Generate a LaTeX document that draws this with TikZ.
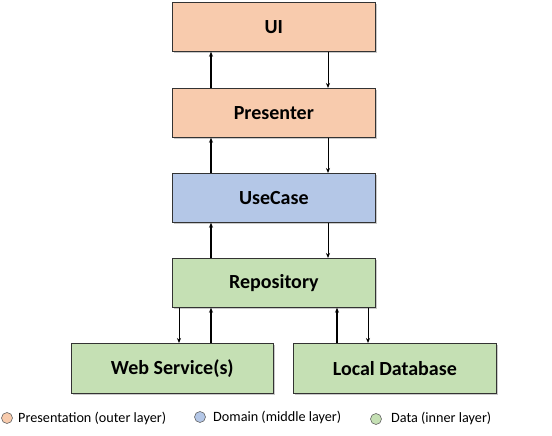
\documentclass[tikz,border=0pt]{standalone}
\usepackage{fontspec}
\setmainfont{Carlito}
\usetikzlibrary{arrows.meta,shadows}
\definecolor{pres}{HTML}{F8CBAD}
\definecolor{dom}{HTML}{B4C7E7}
\definecolor{dat}{HTML}{C5E0B4}
\begin{document}
\begin{tikzpicture}[x=1pt,y=-1pt,
  layerbox/.style={draw=black!80, line width=0.7pt, minimum width=203pt, minimum height=49pt, anchor=north west, inner sep=0pt,
     font=\bfseries\fontsize{20}{22}\selectfont, drop shadow={shadow xshift=2pt, shadow yshift=-2pt, opacity=0.35, fill=black!60}},
  conn/.style={-{Stealth[length=5pt,width=4pt]}, line width=0.9pt},
  connup/.style={conn, line width=1.4pt},
  dot/.style={circle, draw=black!60, line width=0.6pt, minimum size=11pt, inner sep=0pt},
  legtext/.style={anchor=west, font=\fontsize{14.2}{16}\selectfont, inner sep=0pt}]
\useasboundingbox (0,0) rectangle (552,436);
\node[layerbox, fill=pres] (ui) at (172,2) {UI};
\node[layerbox, fill=pres] (pr) at (172,88) {Presenter};
\node[layerbox, fill=dom] (uc) at (172,173) {UseCase};
\node[layerbox, fill=dat] (re) at (172,258) {Repository};
\node[layerbox, fill=dat, minimum width=202pt, minimum height=50pt] (ws) at (71,343) {Web Service(s)};
\node[layerbox, fill=dat, minimum width=203pt, minimum height=50pt] (db) at (293,343) {Local Database};
% arrows
\draw[connup] (pr.north west -| 211,0) -- (ui.south west -| 211,0);
\draw[conn] (ui.south west -| 328,0) -- (pr.north west -| 328,0);
\draw[connup] (uc.north west -| 211,0) -- (pr.south west -| 211,0);
\draw[conn] (pr.south west -| 328,0) -- (uc.north west -| 328,0);
\draw[connup] (re.north west -| 211,0) -- (uc.south west -| 211,0);
\draw[conn] (uc.south west -| 328,0) -- (re.north west -| 328,0);
\draw[conn] (re.south west -| 179,0) -- (ws.north west -| 179,0);
\draw[connup] (ws.north west -| 211,0) -- (re.south west -| 211,0);
\draw[connup] (db.north west -| 337,0) -- (re.south west -| 337,0);
\draw[conn] (re.south west -| 368,0) -- (db.north west -| 368,0);
% legend
\node[dot, fill=pres] (d1) at (7,418) {};
\node[legtext] (t1) at (18,418) {Presentation (outer layer)};
\node[dot, fill=dom] (d2) at (200,417) {};
\node[legtext] (t2) at (213,417) {Domain (middle layer)};
\node[dot, fill=dat] (d3) at (376,419) {};
\node[legtext] (t3) at (391,418) {Data (inner layer)};
\end{tikzpicture}
\end{document}
